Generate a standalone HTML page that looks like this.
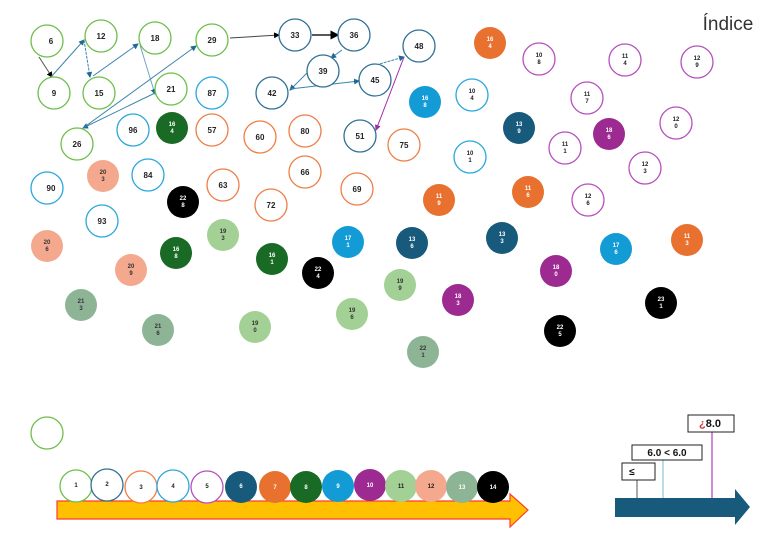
<!DOCTYPE html>
<html><head><meta charset="utf-8"><style>
html,body{margin:0;padding:0;background:#fff}
svg{display:block}
text{font-family:"Liberation Sans",sans-serif;font-weight:bold;text-anchor:middle}
</style></head><body>
<svg width="768" height="543" viewBox="0 0 768 543" xmlns="http://www.w3.org/2000/svg">
<defs>
<marker id="ab" markerWidth="6" markerHeight="6" refX="5" refY="3" orient="auto"><path d="M0,0L6,3L0,6z" fill="#1f6a92"/></marker>
<marker id="ak" markerWidth="6" markerHeight="6" refX="5" refY="3" orient="auto"><path d="M0,0L6,3L0,6z" fill="#000"/></marker>
<marker id="ap" markerWidth="6" markerHeight="6" refX="5" refY="3" orient="auto"><path d="M0,0L6,3L0,6z" fill="#a02ca8"/></marker>
</defs>
<text x="728" y="30" font-size="19" font-weight="normal" fill="#333" style="font-weight:normal">Índice</text>

<g stroke-width="1">
<line x1="39" y1="57" x2="52" y2="77" stroke="#555" marker-end="url(#ak)"/>
<line x1="51" y1="77" x2="84" y2="40" stroke="#3b85ad" marker-end="url(#ab)"/>
<line x1="84" y1="40" x2="90" y2="77" stroke="#3b85ad" stroke-dasharray="3,1" marker-end="url(#ab)"/>
<line x1="93" y1="76" x2="138" y2="44" stroke="#3b85ad" marker-end="url(#ab)"/>
<line x1="140" y1="45" x2="155" y2="94" stroke="#6ea5c4" marker-end="url(#ab)"/>
<line x1="155" y1="93" x2="83" y2="128" stroke="#3b85ad" marker-end="url(#ab)"/>
<line x1="83" y1="128" x2="196" y2="46" stroke="#3b85ad" marker-end="url(#ab)"/>
<line x1="230" y1="38" x2="279" y2="35" stroke="#444" marker-end="url(#ak)"/>
<line x1="312" y1="35" x2="338" y2="35" stroke="#222" stroke-width="1.5" marker-end="url(#ak)"/>
<line x1="342" y1="50" x2="331" y2="58" stroke="#3b85ad" marker-end="url(#ab)"/>
<line x1="308" y1="72" x2="290" y2="90" stroke="#3b85ad" marker-end="url(#ab)"/>
<line x1="290" y1="89" x2="359" y2="81" stroke="#3b85ad" marker-end="url(#ab)"/>
<line x1="376" y1="65" x2="404" y2="57" stroke="#3b85ad" stroke-dasharray="3,1" marker-end="url(#ab)"/>
<line x1="404" y1="57" x2="376" y2="130" stroke="#a02ca8" marker-end="url(#ap)"/>
</g>

<g stroke-width="1.3" fill="#fff" font-size="8">
<!-- green outline -->
<g stroke="#6cbf4a">
<circle cx="47" cy="41" r="16"/><circle cx="101" cy="36" r="16"/><circle cx="155" cy="38" r="16"/><circle cx="212" cy="40" r="16"/>
<circle cx="54" cy="93" r="16"/><circle cx="99" cy="93" r="16"/><circle cx="171" cy="89" r="16"/><circle cx="77" cy="144" r="16"/>
<circle cx="47" cy="433" r="16"/>
</g>
<g stroke="#2f6f94">
<circle cx="295" cy="35" r="16"/><circle cx="354" cy="35" r="16"/><circle cx="323" cy="71" r="16"/><circle cx="375" cy="80" r="16"/>
<circle cx="272" cy="93" r="16"/><circle cx="419" cy="46" r="16"/><circle cx="360" cy="136" r="16"/>
</g>
<g stroke="#29a6dc">
<circle cx="212" cy="93" r="16"/><circle cx="133" cy="130" r="16"/><circle cx="148" cy="175" r="16"/><circle cx="47" cy="188" r="16"/>
<circle cx="102" cy="221" r="16"/><circle cx="472" cy="95" r="16"/><circle cx="470" cy="157" r="16"/>
</g>
<g stroke="#ef7d44">
<circle cx="212" cy="130" r="16"/><circle cx="260" cy="137" r="16"/><circle cx="305" cy="131" r="16"/><circle cx="305" cy="172" r="16"/>
<circle cx="223" cy="185" r="16"/><circle cx="271" cy="205" r="16"/><circle cx="357" cy="189" r="16"/><circle cx="404" cy="145" r="16"/>
</g>
<g stroke="#b64fbe">
<circle cx="539" cy="59" r="16"/><circle cx="625" cy="60" r="16"/><circle cx="697" cy="62" r="16"/><circle cx="587" cy="98" r="16"/>
<circle cx="676" cy="123" r="16"/><circle cx="565" cy="148" r="16"/><circle cx="645" cy="168" r="16"/><circle cx="588" cy="200" r="16"/>
</g>
</g>
<g fill="#222" font-size="8">
<text x="51" y="44">6</text><text x="101" y="39">12</text><text x="155" y="41">18</text><text x="212" y="43">29</text>
<text x="54" y="96">9</text><text x="99" y="96">15</text><text x="171" y="92">21</text><text x="77" y="147">26</text>
<text x="295" y="38">33</text><text x="354" y="38">36</text><text x="323" y="74">39</text><text x="375" y="83">45</text>
<text x="272" y="96">42</text><text x="419" y="49">48</text><text x="360" y="139">51</text>
<text x="212" y="96">87</text><text x="133" y="133">96</text><text x="148" y="178">84</text><text x="51" y="191">90</text>
<text x="102" y="224">93</text>
<text x="212" y="133">57</text><text x="260" y="140">60</text><text x="305" y="134">80</text><text x="305" y="175">66</text>
<text x="223" y="188">63</text><text x="271" y="208">72</text><text x="357" y="192">69</text><text x="404" y="148">75</text>
</g>
<g fill="#222" font-size="6">
<text x="472" y="93">10</text><text x="472" y="100">4</text>
<text x="470" y="155">10</text><text x="470" y="162">1</text>
<text x="539" y="57">10</text><text x="539" y="64">8</text>
<text x="625" y="58">11</text><text x="625" y="65">4</text>
<text x="697" y="60">12</text><text x="697" y="67">9</text>
<text x="587" y="96">11</text><text x="587" y="103">7</text>
<text x="676" y="121">12</text><text x="676" y="128">0</text>
<text x="565" y="146">11</text><text x="565" y="153">1</text>
<text x="645" y="166">12</text><text x="645" y="173">3</text>
<text x="588" y="198">12</text><text x="588" y="205">6</text>
</g>

<g>
<!-- filled -->
<g stroke="none">
<circle cx="172" cy="128" r="16" fill="#196a24"/>
<circle cx="183" cy="202" r="16" fill="#000"/>
<circle cx="223" cy="235" r="16" fill="#a3d195"/>
<circle cx="176" cy="253" r="16" fill="#196a24"/>
<circle cx="272" cy="259" r="16" fill="#196a24"/>
<circle cx="318" cy="273" r="16" fill="#000"/>
<circle cx="348" cy="242" r="16" fill="#139bd6"/>
<circle cx="412" cy="243" r="16" fill="#175a7c"/>
<circle cx="400" cy="285" r="16" fill="#a3d195"/>
<circle cx="352" cy="314" r="16" fill="#a3d195"/>
<circle cx="255" cy="327" r="16" fill="#a3d195"/>
<circle cx="158" cy="330" r="16" fill="#8db495"/>
<circle cx="81" cy="305" r="16" fill="#8db495"/>
<circle cx="131" cy="270" r="16" fill="#f4a98e"/>
<circle cx="47" cy="246" r="16" fill="#f4a98e"/>
<circle cx="103" cy="176" r="16" fill="#f4a98e"/>
<circle cx="423" cy="352" r="16" fill="#8db495"/>
<circle cx="458" cy="300" r="16" fill="#9c2a90"/>
<circle cx="556" cy="271" r="16" fill="#9c2a90"/>
<circle cx="616" cy="249" r="16" fill="#139bd6"/>
<circle cx="687" cy="240" r="16" fill="#e8712f"/>
<circle cx="661" cy="303" r="16" fill="#000"/>
<circle cx="560" cy="331" r="16" fill="#000"/>
<circle cx="502" cy="238" r="16" fill="#175a7c"/>
<circle cx="439" cy="200" r="16" fill="#e8712f"/>
<circle cx="528" cy="192" r="16" fill="#e8712f"/>
<circle cx="519" cy="128" r="16" fill="#175a7c"/>
<circle cx="609" cy="134" r="16" fill="#9c2a90"/>
<circle cx="425" cy="102" r="16" fill="#139bd6"/>
<circle cx="490" cy="43" r="16" fill="#e8712f"/>
</g>
<g fill="#fff" font-size="6">
<text x="172" y="126">16</text><text x="172" y="133">4</text>
<text x="183" y="200">22</text><text x="183" y="207">8</text>
<text x="176" y="251">16</text><text x="176" y="258">8</text>
<text x="272" y="257">16</text><text x="272" y="264">1</text>
<text x="318" y="271">22</text><text x="318" y="278">4</text>
<text x="348" y="240">17</text><text x="348" y="247">1</text>
<text x="412" y="241">13</text><text x="412" y="248">6</text>
<text x="458" y="298">18</text><text x="458" y="305">3</text>
<text x="556" y="269">18</text><text x="556" y="276">0</text>
<text x="616" y="247">17</text><text x="616" y="254">6</text>
<text x="687" y="238">11</text><text x="687" y="245">3</text>
<text x="661" y="301">23</text><text x="661" y="308">1</text>
<text x="560" y="329">22</text><text x="560" y="336">5</text>
<text x="502" y="236">13</text><text x="502" y="243">3</text>
<text x="439" y="198">11</text><text x="439" y="205">9</text>
<text x="528" y="190">11</text><text x="528" y="197">6</text>
<text x="519" y="126">13</text><text x="519" y="133">9</text>
<text x="609" y="132">18</text><text x="609" y="139">6</text>
<text x="425" y="100">16</text><text x="425" y="107">8</text>
<text x="490" y="41">16</text><text x="490" y="48">4</text>
</g>
<g fill="#333" font-size="6">
<text x="223" y="233">19</text><text x="223" y="240">3</text>
<text x="400" y="283">19</text><text x="400" y="290">9</text>
<text x="352" y="312">19</text><text x="352" y="319">6</text>
<text x="255" y="325">19</text><text x="255" y="332">0</text>
<text x="158" y="328">21</text><text x="158" y="335">6</text>
<text x="81" y="303">21</text><text x="81" y="310">3</text>
<text x="131" y="268">20</text><text x="131" y="275">9</text>
<text x="47" y="244">20</text><text x="47" y="251">6</text>
<text x="103" y="174">20</text><text x="103" y="181">3</text>
<text x="423" y="350">22</text><text x="423" y="357">1</text>
</g>
</g>

<!-- bottom orange arrow -->
<path d="M57,501H510V494L528,510L510,527V519H57Z" fill="#ffc000" stroke="#ff3b2f" stroke-width="1.2"/>
<g stroke-width="1.3">
<circle cx="76" cy="486" r="16" fill="#fff" stroke="#6cbf4a"/>
<circle cx="107" cy="485" r="16" fill="#fff" stroke="#2f6f94"/>
<circle cx="141" cy="487" r="16" fill="#fff" stroke="#ef7d44"/>
<circle cx="173" cy="486" r="16" fill="#fff" stroke="#29a6dc"/>
<circle cx="207" cy="487" r="16" fill="#fff" stroke="#b64fbe"/>
<circle cx="241" cy="487" r="16" fill="#175a7c" stroke="none"/>
<circle cx="275" cy="487" r="16" fill="#e8712f" stroke="none"/>
<circle cx="306" cy="487" r="16" fill="#196a24" stroke="none"/>
<circle cx="338" cy="486" r="16" fill="#139bd6" stroke="none"/>
<circle cx="370" cy="485" r="16" fill="#9c2a90" stroke="none"/>
<circle cx="401" cy="486" r="16" fill="#a3d195" stroke="none"/>
<circle cx="431" cy="486" r="16" fill="#f4a98e" stroke="none"/>
<circle cx="462" cy="487" r="16" fill="#8db495" stroke="none"/>
<circle cx="493" cy="487" r="16" fill="#000" stroke="none"/>
</g>
<g font-size="6" fill="#222">
<text x="76" y="487">1</text><text x="107" y="486">2</text><text x="141" y="489">3</text><text x="173" y="488">4</text><text x="207" y="488">5</text>
<text x="401" y="488">11</text><text x="431" y="488">12</text>
</g>
<g font-size="6" fill="#fff">
<text x="241" y="488">6</text><text x="275" y="489">7</text><text x="306" y="489">8</text><text x="338" y="488">9</text><text x="370" y="487">10</text><text x="462" y="489">13</text><text x="493" y="489">14</text>
</g>

<!-- right legend -->
<line x1="637" y1="480" x2="637" y2="498" stroke="#555"/>
<line x1="663" y1="460" x2="663" y2="498" stroke="#7ab6d6"/>
<line x1="712" y1="432" x2="712" y2="498" stroke="#b64fbe" stroke-width="1.3"/>
<path d="M615,498H735V489L750,507L735,525V517H615Z" fill="#175a7c"/>
<rect x="622" y="463" width="33" height="17" fill="#fff" stroke="#222"/>
<text x="632" y="475" font-size="10" fill="#111">≤</text>
<rect x="632" y="445" width="70" height="15" fill="#fff" stroke="#222"/>
<text x="667" y="456" font-size="10" fill="#111">6.0 &lt; 6.0</text>
<rect x="688" y="415" width="46" height="17" fill="#fff" stroke="#222"/>
<text x="710" y="427" font-size="11" fill="#111"><tspan fill="#d03030">¿</tspan>8.0</text>
</svg>
</body></html>
